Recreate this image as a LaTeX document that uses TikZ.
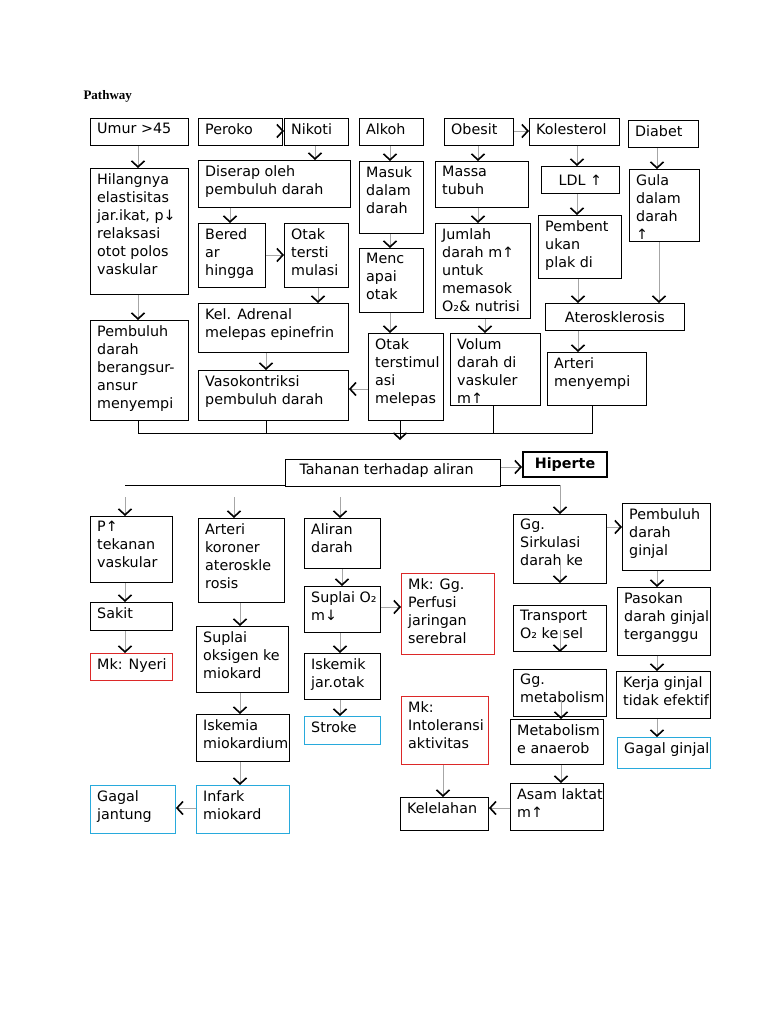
\documentclass[tikz,border=0pt]{standalone}
\usepackage{fontspec}
\setmainfont{DejaVu Sans}
\newfontfamily\serifb{Liberation Serif}
\usetikzlibrary{arrows.meta}
\newcommand\bx[7][]{%
\pgfmathsetmacro\bw{#5-#3}\pgfmathsetmacro\bh{#6-#4}%
\node[box,#1,minimum width=\bw pt,minimum height=\bh pt] (#2) at (#3,#4) {};%
\node[txt] at (#3,#4) {#7};}
\newcommand\va[3]{\draw[conn] (#1.south -| #3,0) -- (#2.north -| #3,0);}
\newcommand\ha[3]{\draw[conn] (#1.east |- 0,#3) -- (#2.west |- 0,#3);}
\newcommand\hl[3]{\draw[conn] (#1.west |- 0,#3) -- (#2.east |- 0,#3);}
\begin{document}
\begin{tikzpicture}[x=1pt,y=-1pt,
 box/.style={draw,anchor=north west,inner sep=0pt,line width=0.9pt},
 txt/.style={anchor=north west,align=left,inner xsep=7pt,inner ysep=5pt,font=\fontsize{14.3}{18}\selectfont},
 red/.style={draw={rgb,255:red,220;green,40;blue,40}},
 cy/.style={draw={rgb,255:red,40;green,170;blue,220}},
 tip/.tip={Straight Barb[length=6pt,width=13pt,line width=1.6pt]},
 conn/.style={draw=gray!70,line width=0.6pt,-{tip[black]}},
 ln/.style={draw=black,line width=0.9pt}]
\useasboundingbox (0,0) rectangle (768,1024);
\node[anchor=west,font=\serifb\bfseries\fontsize{13}{15}\selectfont] (title) at (80,96) {Pathway};
% row 1
\bx{umur}{90}{118}{188}{145}{Umur >45}
\bx{peroko}{198}{118}{282}{145}{Peroko}
\bx{nikoti}{284}{118}{348}{145}{Nikoti}
\bx{alkoh}{359}{118}{423}{145}{Alkoh}
\bx{obesit}{444}{118}{513}{145}{Obesit}
\bx{kol}{529}{118}{619}{145}{Kolesterol}
\bx{diabet}{628}{120}{698}{147}{Diabet}
\bx{hilang}{90}{168}{188}{294}{Hilangnya\\elastisitas\\jar.ikat, p↓\\relaksasi\\otot polos\\vaskular}
\bx{pembuluh}{90}{320}{188}{420}{Pembuluh\\darah\\berangsur-\\ansur\\menyempi}
\bx{diserap}{198}{160}{350}{207}{Diserap oleh\\pembuluh darah}
\bx{bered}{198}{223}{265}{287}{Bered\\ar\\hingga}
\bx{otaka}{284}{223}{348}{287}{Otak\\tersti\\mulasi}
\bx{kel}{198}{303}{348}{352}{Kel. Adrenal\\melepas epinefrin}
\bx{vaso}{198}{370}{348}{420}{Vasokontriksi\\pembuluh darah}
\bx{masuk}{359}{161}{423}{233}{Masuk\\dalam\\darah}
\bx{menc}{359}{248}{423}{312}{Menc\\apai\\otak}
\bx{otakb}{368}{333}{443}{420}{Otak\\terstimul\\asi\\melepas}
\bx{massa}{435}{161}{528}{207}{Massa\\tubuh}
\bx{jumlah}{435}{223}{530}{318}{Jumlah\\darah m↑\\untuk\\memasok\\O₂\& nutrisi}
\bx{volum}{450}{333}{540}{405}{Volum\\darah di\\vaskuler\\m↑}
\bx{ldl}{541}{166}{619}{193}{}
\node[font=\fontsize{14.3}{18}\selectfont] at (ldl.center) {LDL ↑};
\bx{pembent}{538}{215}{621}{278}{Pembent\\ukan\\plak di}
\bx{gula}{629}{169}{699}{241}{Gula\\dalam\\darah\\↑}
\bx{atero}{545}{303}{684}{330}{}
\node[font=\fontsize{14.3}{18}\selectfont] at (atero.center) {Aterosklerosis};
\bx{arteri}{547}{352}{646}{405}{Arteri\\menyempi}
% row1 arrows
\va{umur}{hilang}{138}
\va{hilang}{pembuluh}{138}
\ha{peroko}{nikoti}{131}
\va{nikoti}{diserap}{315}
\va{diserap}{bered}{230}
\ha{bered}{otaka}{255}
\va{otaka}{kel}{318}
\va{kel}{vaso}{266}
\va{alkoh}{masuk}{390}
\va{masuk}{menc}{390}
\va{menc}{otakb}{390}
\hl{otakb}{vaso}{389}
\va{obesit}{massa}{478}
\va{massa}{jumlah}{478}
\va{jumlah}{volum}{485}
\ha{obesit}{kol}{131}
\va{kol}{ldl}{577}
\va{ldl}{pembent}{577}
\va{pembent}{atero}{578}
\va{diabet}{gula}{657}
\va{gula}{atero}{659}
\va{atero}{arteri}{578}
% collector
\coordinate (cl) at (138,433);
\coordinate (cr) at (592,433);
\coordinate (cd) at (400,440);
\draw[ln] (pembuluh.south -| cl) -- (cl) -- (cr) -- (arteri.south -| cr);
\draw[ln] (vaso.south -| 266,0) -- (266,433);
\draw[ln] (volum.south -| 493,0) -- (493,433);
\draw[ln,-{tip}] (otakb.south -| cd) -- (cd);
% middle
\bx{tahanan}{285}{459}{500}{486}{}
\node[font=\fontsize{14.3}{18}\selectfont,anchor=west] at (296,471) {Tahanan terhadap aliran};
\bx[line width=2pt]{hiper}{522}{451}{606}{476}{}
\node[font=\bfseries\fontsize{14.3}{18}\selectfont] at (hiper.center) {Hiperte};
\ha{tahanan}{hiper}{467}
\coordinate (ml) at (125,485);
\coordinate (mr) at (560,485);
\draw[ln] (ml) -- (tahanan.west |- ml);
\draw[ln] (tahanan.east |- mr) -- (mr);
% bottom boxes
\bx{p}{90}{516}{172}{582}{P↑\\tekanan\\vaskular}
\bx{sakit}{90}{602}{172}{630}{Sakit}
\bx[red]{nyeri}{90}{653}{172}{680}{Mk: Nyeri}
\bx{artk}{198}{518}{284}{602}{Arteri\\koroner\\ateroskle\\rosis}
\bx{supok}{196}{626}{288}{692}{Suplai\\oksigen ke\\miokard}
\bx{iskemia}{196}{714}{289}{761}{Iskemia\\miokardium}
\bx[cy]{infark}{196}{785}{289}{833}{Infark\\miokard}
\bx[cy]{gagalj}{90}{785}{175}{833}{Gagal\\jantung}
\bx{aliran}{304}{518}{380}{568}{Aliran\\darah}
\bx{suplai}{304}{586}{380}{632}{Suplai O₂\\m↓}
\bx{iskemik}{304}{653}{380}{699}{Iskemik\\jar.otak}
\bx[cy]{stroke}{304}{716}{380}{744}{Stroke}
\bx[red]{mkgg}{401}{573}{494}{654}{Mk: Gg.\\Perfusi\\jaringan\\serebral}
\bx[red]{mkint}{401}{696}{488}{764}{Mk:\\Intoleransi\\aktivitas}
\bx{kelelahan}{400}{797}{488}{830}{Kelelahan}
\bx{gg}{513}{514}{606}{583}{Gg.\\Sirkulasi\\darah ke}
\bx{transport}{513}{605}{606}{651}{Transport\\O₂ ke sel}
\bx{ggmet}{513}{669}{606}{716}{Gg.\\metabolism}
\bx{metab}{510}{719}{603}{764}{Metabolism\\e anaerob}
\bx{asam}{510}{783}{603}{830}{Asam laktat\\m↑}
\bx{pemb}{622}{503}{710}{570}{Pembuluh\\darah\\ginjal}
\bx{pasokan}{617}{587}{710}{655}{Pasokan\\darah ginjal\\terganggu}
\bx{kerja}{616}{671}{710}{718}{Kerja ginjal\\tidak efektif}
\bx[cy]{gagalg}{617}{737}{710}{768}{Gagal ginjal}
% bottom arrows
\draw[conn] (125,497) -- (p.north -| 125,0);
\draw[conn] (234,497) -- (artk.north -| 234,0);
\draw[conn] (340,497) -- (aliran.north -| 340,0);
\draw[conn] (mr) -- (gg.north -| mr);
\va{p}{sakit}{125}
\va{sakit}{nyeri}{125}
\va{artk}{supok}{240}
\va{supok}{iskemia}{240}
\va{iskemia}{infark}{240}
\hl{infark}{gagalj}{808}
\va{aliran}{suplai}{342}
\va{suplai}{iskemik}{340}
\va{iskemik}{stroke}{340}
\ha{suplai}{mkgg}{607}
\va{mkint}{kelelahan}{443}
\hl{asam}{kelelahan}{808}
\draw[conn] (560,560) -- (560,583);
\draw[conn] (560,630) -- (560,652);
\draw[conn] (561,700) -- (561,719);
\va{metab}{asam}{561}
\ha{gg}{pemb}{527}
\va{pemb}{pasokan}{657}
\va{pasokan}{kerja}{657}
\va{kerja}{gagalg}{657}
\end{tikzpicture}
\end{document}
